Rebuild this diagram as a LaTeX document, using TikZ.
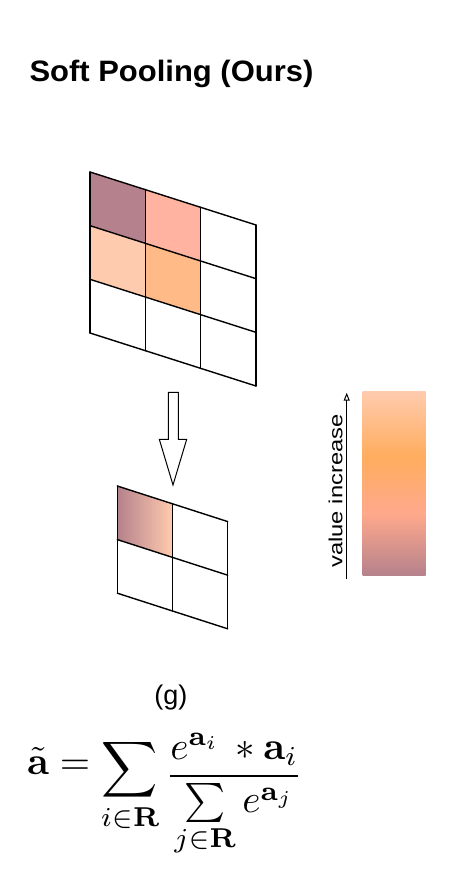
\documentclass[tikz,border=0pt]{standalone}
\usepackage[no-math]{fontspec}
\usepackage{amsmath}
\usepackage{graphicx}
\newfontfamily\arialf{Liberation Sans}
\usetikzlibrary{arrows.meta}
\definecolor{cmauve}{HTML}{B5818C}
\definecolor{csalmon}{HTML}{FFB3A0}
\definecolor{cpeach}{HTML}{FFCBAE}
\definecolor{corange}{HTML}{FFBA88}
\definecolor{cbarorange}{HTML}{FFAD5E}
\definecolor{cbarsalmon}{HTML}{FFA98C}
\pgfdeclareverticalshading{valuebar}{100bp}{color(0bp)=(cmauve); color(25bp)=(cmauve); color(42bp)=(cbarsalmon); color(57.5bp)=(cbarorange); color(75bp)=(cpeach); color(100bp)=(cpeach)}
\begin{document}
\begin{tikzpicture}[x=1pt,y=1pt,
  gridline/.style={line width=1.4pt, line join=round, line cap=round},
  blockarrow/.style={line width=1pt, line join=miter, fill=white},
  valarrow/.style={line width=1pt, -{Triangle[open, length=8pt, width=6pt]}},
  titletext/.style={font=\arialf\bfseries\fontsize{29.5}{34}\selectfont, inner sep=0pt},
  captext/.style={font=\arialf\fontsize{27}{32}\selectfont, inner sep=0pt},
  valtext/.style={font=\arialf\fontsize{19}{22}\selectfont, inner sep=0pt, rotate=90}]
\useasboundingbox (0,0) rectangle (454,890);

% title
\node[titletext, anchor=base west] (title) at (29.3,808.3) {\scalebox{1.05}[1]{Soft Pooling (Ours)}};

% big 3x3 grid
\foreach \c in {0,...,3}{\foreach \r in {0,...,3}{
  \coordinate (B\c\r) at ({90+55.33*\c},{718-17.67*\c-53.67*\r});}}
\fill[cmauve]  (B00)--(B10)--(B11)--(B01)--cycle;
\fill[csalmon] (B10)--(B20)--(B21)--(B11)--cycle;
\fill[cpeach]  (B01)--(B11)--(B12)--(B02)--cycle;
\fill[corange] (B11)--(B21)--(B22)--(B12)--cycle;
\foreach \r in {0,...,3}{\draw[gridline] (B0\r)--(B3\r);}
\foreach \c in {0,...,3}{\draw[gridline] (B\c0)--(B\c3);}

% block arrow
\draw[blockarrow] (168.3,497.7)--(178.3,497.7)--(178.3,450.7)--(186.7,450.7)--(173,405)--(159.3,450.7)--(168.3,450.7)--cycle;

% small 2x2 grid
\foreach \c in {0,...,2}{\foreach \r in {0,...,2}{
  \coordinate (S\c\r) at ({117.3+55.2*\c},{404-17.8*\c-53.6*\r});}}
\shade[left color=cmauve, right color=cpeach] (S00)--(S10)--(S11)--(S01)--cycle;
\foreach \r in {0,...,2}{\draw[gridline] (S0\r)--(S2\r);}
\foreach \c in {0,...,2}{\draw[gridline] (S\c0)--(S\c2);}

% colour bar
\node[shading=valuebar, minimum width=63pt, minimum height=184.3pt, inner sep=0pt, outer sep=0pt] (bar) at (394.2,406.15) {};
\coordinate (vlo) at (346.7,310.7);
\coordinate (vhi) at (346.7,497.3);
\draw[valarrow] (vlo)--(vhi);
\node[valtext] (val) at (335.5,399) {\scalebox{1.25}[1]{value increase}};

% caption
\node[captext, anchor=base] (cap) at (170.8,185.6) {(g)};

% formula
\node[scale=3.9, transform shape, inner sep=0pt] (eq) at (165,95)
  {$\displaystyle \raisebox{1.5pt}{$\tilde{\mathbf{a}}$} \mathrel{\raisebox{1.5pt}{$=$}} \sum_{i\in\mathbf{R}} \raisebox{-1.5pt}{$\displaystyle\frac{e^{\mathbf{a}_i}\,\ast\mathbf{a}_i}{\sum\limits_{j\in\mathbf{R}} e^{\mathbf{a}_j}}$}$};
\end{tikzpicture}
\end{document}
